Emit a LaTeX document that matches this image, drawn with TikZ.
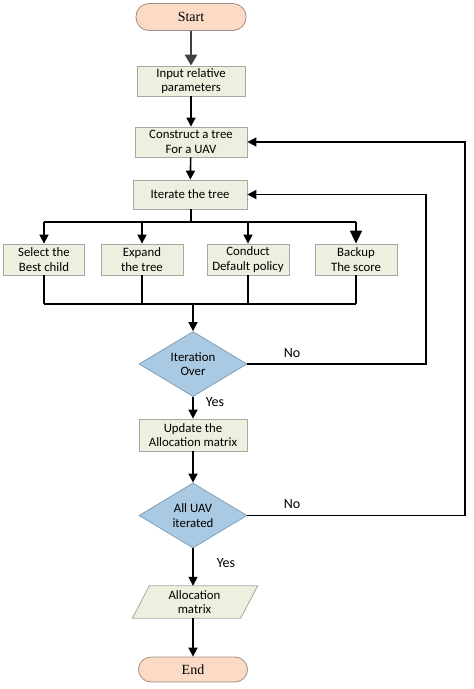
\documentclass[tikz,border=0pt]{standalone}
\usepackage{fontspec}
\setmainfont{Carlito}
\newfontfamily\termfont{Liberation Serif}
\usetikzlibrary{shapes.geometric,arrows.meta,calc,backgrounds}
\definecolor{termfill}{HTML}{FBDAC6}
\definecolor{termdraw}{HTML}{A08E84}
\definecolor{boxfill}{HTML}{EBF1DE}
\definecolor{boxdraw}{HTML}{A6A6A6}
\definecolor{decfill}{HTML}{A9CAE2}
\definecolor{decdraw}{HTML}{7FA0BA}
\begin{document}
\begin{tikzpicture}[x=1pt,y=-1pt,
  every node/.style={font=\fontsize{12.8}{14.3}\selectfont, align=center},
  term/.style={draw=termdraw, fill=termfill, line width=0.8pt, rounded corners=13pt, inner sep=0pt, font=\termfont\fontsize{14}{15}\selectfont},
  procbox/.style={draw=boxdraw, fill=boxfill, line width=0.8pt, inner sep=0pt},
  decision/.style={draw=decdraw, fill=decfill, line width=0.8pt, diamond, aspect=1.66, minimum width=108pt, minimum height=65pt, inner sep=0pt},
  conn/.style={line width=1.6pt, -{Triangle[length=9pt,width=9pt]}},
  line/.style={line width=1.6pt},
  lbl/.style={font=\fontsize{14}{15}\selectfont}]
\useasboundingbox (0,0) rectangle (474,689);

\node[term, minimum width=110pt, minimum height=27pt] (start) at (191,17) {Start};
\node[procbox, minimum width=108pt, minimum height=30pt] (input) at (191,81) {Input relative\\parameters};
\node[procbox, minimum width=112pt, minimum height=30pt] (construct) at (191,142) {Construct a tree\\For a UAV};
\node[procbox, minimum width=114pt, minimum height=29pt] (iterate) at (190,194.5) {Iterate the tree};

\node[procbox, minimum width=81pt, minimum height=31pt] (select) at (44,259.5) {Select the\\Best child};
\node[procbox, minimum width=82pt, minimum height=31pt] (expand) at (142,259.5) {Expand\\the tree};
\node[procbox, minimum width=82pt, minimum height=31pt] (conduct) at (248,259.5) {Conduct\\Default policy};
\node[procbox, minimum width=82pt, minimum height=31pt] (backup) at (356,259.5) {Backup\\The score};

\node[decision] (over) at (193,364) {Iteration\\Over};
\node[procbox, minimum width=108pt, minimum height=32pt] (update) at (193,435) {Update the\\Allocation matrix};
\node[decision] (alluav) at (193,515.5) {All UAV\\iterated};

\node[minimum width=108pt, minimum height=32pt, inner sep=0pt] (para) at (194.5,602) {Allocation\\matrix};
\begin{pgfonlayer}{background}
\draw[boxdraw, fill=boxfill, line width=0.8pt] ($(para.south west)+(-8,0)$) -- ($(para.north west)+(9,0)$) -- ($(para.north east)+(9,0)$) -- ($(para.south east)+(-8,0)$) -- cycle;
\end{pgfonlayer}
\node[term, minimum width=109pt, minimum height=25pt, rounded corners=12.5pt] (end) at (193,669.5) {End};

% connectors
\draw[line width=2.6pt, draw=black!75, -{Triangle[length=11pt,width=12pt]}] (start) -- (input);
\draw[conn] (input) -- (construct);
\draw[conn] (construct) -- (iterate);

\coordinate (bt) at (191,222);
\draw[line] (iterate.south -| bt) -- (bt);
\draw[line] (select.north |- bt) -- (backup.north |- bt);
\draw[conn] (select.north |- bt) -- (select.north);
\draw[conn] (expand.north |- bt) -- (expand.north);
\draw[conn] (conduct.north |- bt) -- (conduct.north);
\draw[line width=1.6pt, -{Triangle[length=13pt,width=12pt]}] (backup.north |- bt) -- (backup.north);

\coordinate (bb) at (193,304);
\draw[line] (select.south) -- (select.south |- bb);
\draw[line] (expand.south) -- (expand.south |- bb);
\draw[line] (conduct.south) -- (conduct.south |- bb);
\draw[line] (backup.south) -- (backup.south |- bb);
\draw[line] (select.south |- bb) -- (backup.south |- bb);
\draw[conn] (bb) -- (over.north);

\coordinate (r1) at (426,364);
\draw[conn] (over.east) -- (r1) -- (r1 |- iterate.east) -- (iterate.east);
\node[lbl] (no1) at (292,353) {No};

\draw[conn] (over.south) -- (update.north);
\node[lbl] (yes1) at (215,402) {Yes};

\draw[conn] (update.south) -- (alluav.north);

\coordinate (r2) at (465,515.5);
\draw[conn] (alluav.east) -- (r2) -- (r2 |- construct.east) -- (construct.east);
\node[lbl] (no2) at (292,504) {No};

\draw[conn] (alluav.south) -- (alluav.south |- para.north);
\node[lbl] (yes2) at (226,563) {Yes};

\draw[conn] (para.south -| end.north) -- (end.north);
\end{tikzpicture}
\end{document}
